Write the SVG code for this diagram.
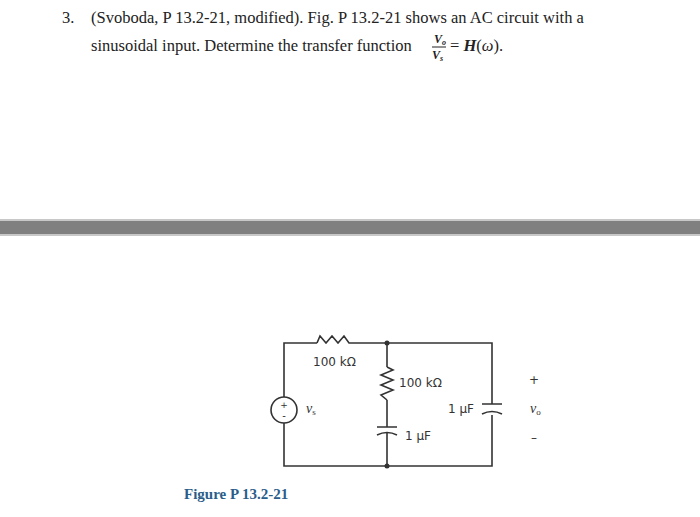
<svg xmlns="http://www.w3.org/2000/svg" width="700" height="517" viewBox="0 0 700 517">
<style>
.t{font-family:"Liberation Serif",serif;font-size:16.5px;fill:#222}
.w{fill:none;stroke:#333;stroke-width:1.6}
.l{font-family:"DejaVu Sans",sans-serif;font-size:12px;fill:#333}
.i{font-family:"Liberation Serif",serif;font-style:italic;font-size:14px;fill:#333}
</style>
<rect width="700" height="517" fill="#fff"/>
<g id="question">
<text class="t" x="62" y="23">3.</text>
<text class="t" x="91" y="23">(Svoboda, P 13.2-21, modified). Fig. P 13.2-21 shows an AC circuit with a</text>
<text class="t" x="91" y="51">sinusoidal input. Determine the transfer function</text>
<text x="434" y="43" font-family="Liberation Serif,serif" font-size="12" font-weight="bold" font-style="italic" fill="#222">V<tspan font-size="8" dy="2">o</tspan></text>
<line x1="432" y1="47" x2="446" y2="47" stroke="#222" stroke-width="1"/>
<text x="432" y="59" font-family="Liberation Serif,serif" font-size="12" font-weight="bold" font-style="italic" fill="#222">V<tspan font-size="8" dy="2">s</tspan></text>
<text class="t" x="450" y="51">= <tspan font-weight="bold" font-style="italic">H</tspan>(<tspan font-style="italic">ω</tspan>).</text>
</g>
<g id="band">
<rect x="0" y="219" width="700" height="17" fill="#c8c8c8"/>
<rect x="0" y="221" width="700" height="13" fill="#808080"/>
</g>
<g id="connectors" class="w">
<path d="M284 397V343H317M352 343H492V404M492 415V466H284V423"/>
<path d="M387 343V367M387 400V427M387 433V466"/>
</g>
<g id="R1"><path class="w" d="M317 343L320 336L326 343L332 336L338 343L344 336L349 343L352 343"/><text class="l" x="313" y="366">100 kΩ</text></g>
<g id="R2"><path class="w" d="M387 367L393 370L381 375L393 380L381 385L393 390L381 395L387 400"/><text class="l" x="399" y="387">100 kΩ</text></g>
<g id="C1"><path class="w" d="M377 427H397M377 435Q387 430 397 435"/><text class="l" x="405" y="440">1 μF</text></g>
<g id="C2"><path class="w" d="M482 404H502M482 414Q492 409 502 414"/><text class="l" x="448" y="413">1 μF</text></g>
<g id="source"><circle class="w" cx="284" cy="410" r="13"/><text x="284" y="408" font-family="DejaVu Sans,sans-serif" font-size="9" text-anchor="middle" fill="#333">+</text><text x="284" y="419" font-family="DejaVu Sans,sans-serif" font-size="10" text-anchor="middle" fill="#333">-</text><text class="i" x="306" y="413">v<tspan font-size="9" font-style="normal" dy="2">s</tspan></text></g>
<g id="vo"><text class="l" x="534" y="384" text-anchor="middle">+</text><text class="i" x="530" y="413">v<tspan font-size="9" font-style="normal" dy="2">o</tspan></text><text class="l" x="534" y="442" text-anchor="middle">–</text></g>
<g id="nodes" fill="#333"><circle cx="387" cy="343" r="2.5"/><circle cx="387" cy="466" r="2.5"/></g>
<text x="184" y="499" font-family="Liberation Serif,serif" font-size="15" font-weight="bold" fill="#2a5d8a">Figure P 13.2-21</text>
</svg>
